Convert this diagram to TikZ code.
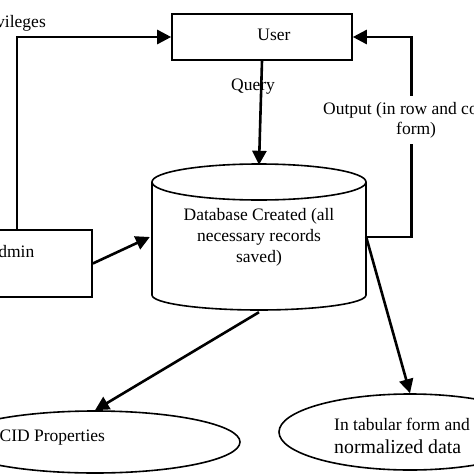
\documentclass[tikz,border=0pt]{standalone}
\usepackage{fontspec}
\setmainfont{Liberation Serif}
\usetikzlibrary{arrows.meta,shapes.geometric}
\begin{document}
\begin{tikzpicture}[x=1pt,y=-1pt,
  txt/.style={font=\fontsize{17.5}{21}\selectfont, inner sep=1pt, align=center},
  boxshape/.style={draw, line width=1.6pt, rectangle, inner sep=0pt},
  ellshape/.style={draw, line width=1.6pt, ellipse, inner sep=0pt},
  arr/.style={line width=2.6pt, -{Triangle[length=14pt,width=14pt]}}]
\useasboundingbox (0,0) rectangle (474,474);
\clip (0,0) rectangle (474,474);
% boxes
\node[boxshape, minimum width=180pt, minimum height=46pt] (user) at (262,37) {};
\node[txt] (usertxt) at (274,35) {User};
\node[boxshape, minimum width=164pt, minimum height=67pt] (admin) at (10,263.5) {};
\node[txt] (admintxt) at (10,252) {Admin};
% cylinder
\node[minimum width=214pt, minimum height=146pt, inner sep=0pt] (db) at (259,237) {};
\draw[line width=1.6pt] (259,182) ellipse [x radius=107pt, y radius=18pt];
\draw[line width=1.6pt] (152,182) -- (152,295) arc[start angle=180, end angle=360, x radius=107pt, y radius=15pt] -- (366,182);
\node[txt] (dbtxt) at (259,237) {Database Created (all\\necessary records\\saved)};
% ellipses
\node[ellshape, minimum width=290pt, minimum height=62pt] (acid) at (95,442) {};
\node[txt] (acidtxt) at (46,438) {ACID Properties};
\node[ellshape, minimum width=262pt, minimum height=76pt] (tab) at (410,432) {};
\node[txt, align=left, anchor=west, font=\fontsize{17.5}{23}\selectfont] (tabtxt) at (333,435.5) {In tabular form and\\{\fontsize{19.8}{23}\selectfont normalized data}};
% connectors
\draw[arr] ([xshift=7pt]admin.north) |- (user.west);
\node[txt, anchor=base east] (privtxt) at (47,27) {Privileges};
\draw[arr] (user.south) -- ([yshift=-1pt]db.north);
\node[txt] (querytxt) at (253,87) {Query};
\draw[arr] (admin.east) -- ([xshift=-2pt]db.west);
\draw[arr] (db.east) -- ++(45,0) coordinate (outc) |- (user.east);
\node[txt, fill=white, align=left, anchor=west, inner xsep=1pt, inner ysep=6pt, font=\fontsize{17.5}{20}\selectfont] (outtxt) at (322,120) {Output (in row and column\\\hspace*{73pt}form)};
\draw[arr] (db.east) -- (tab.north);
\draw[arr] ([yshift=-2pt]db.south) -- (acid.north);
\end{tikzpicture}
\end{document}
